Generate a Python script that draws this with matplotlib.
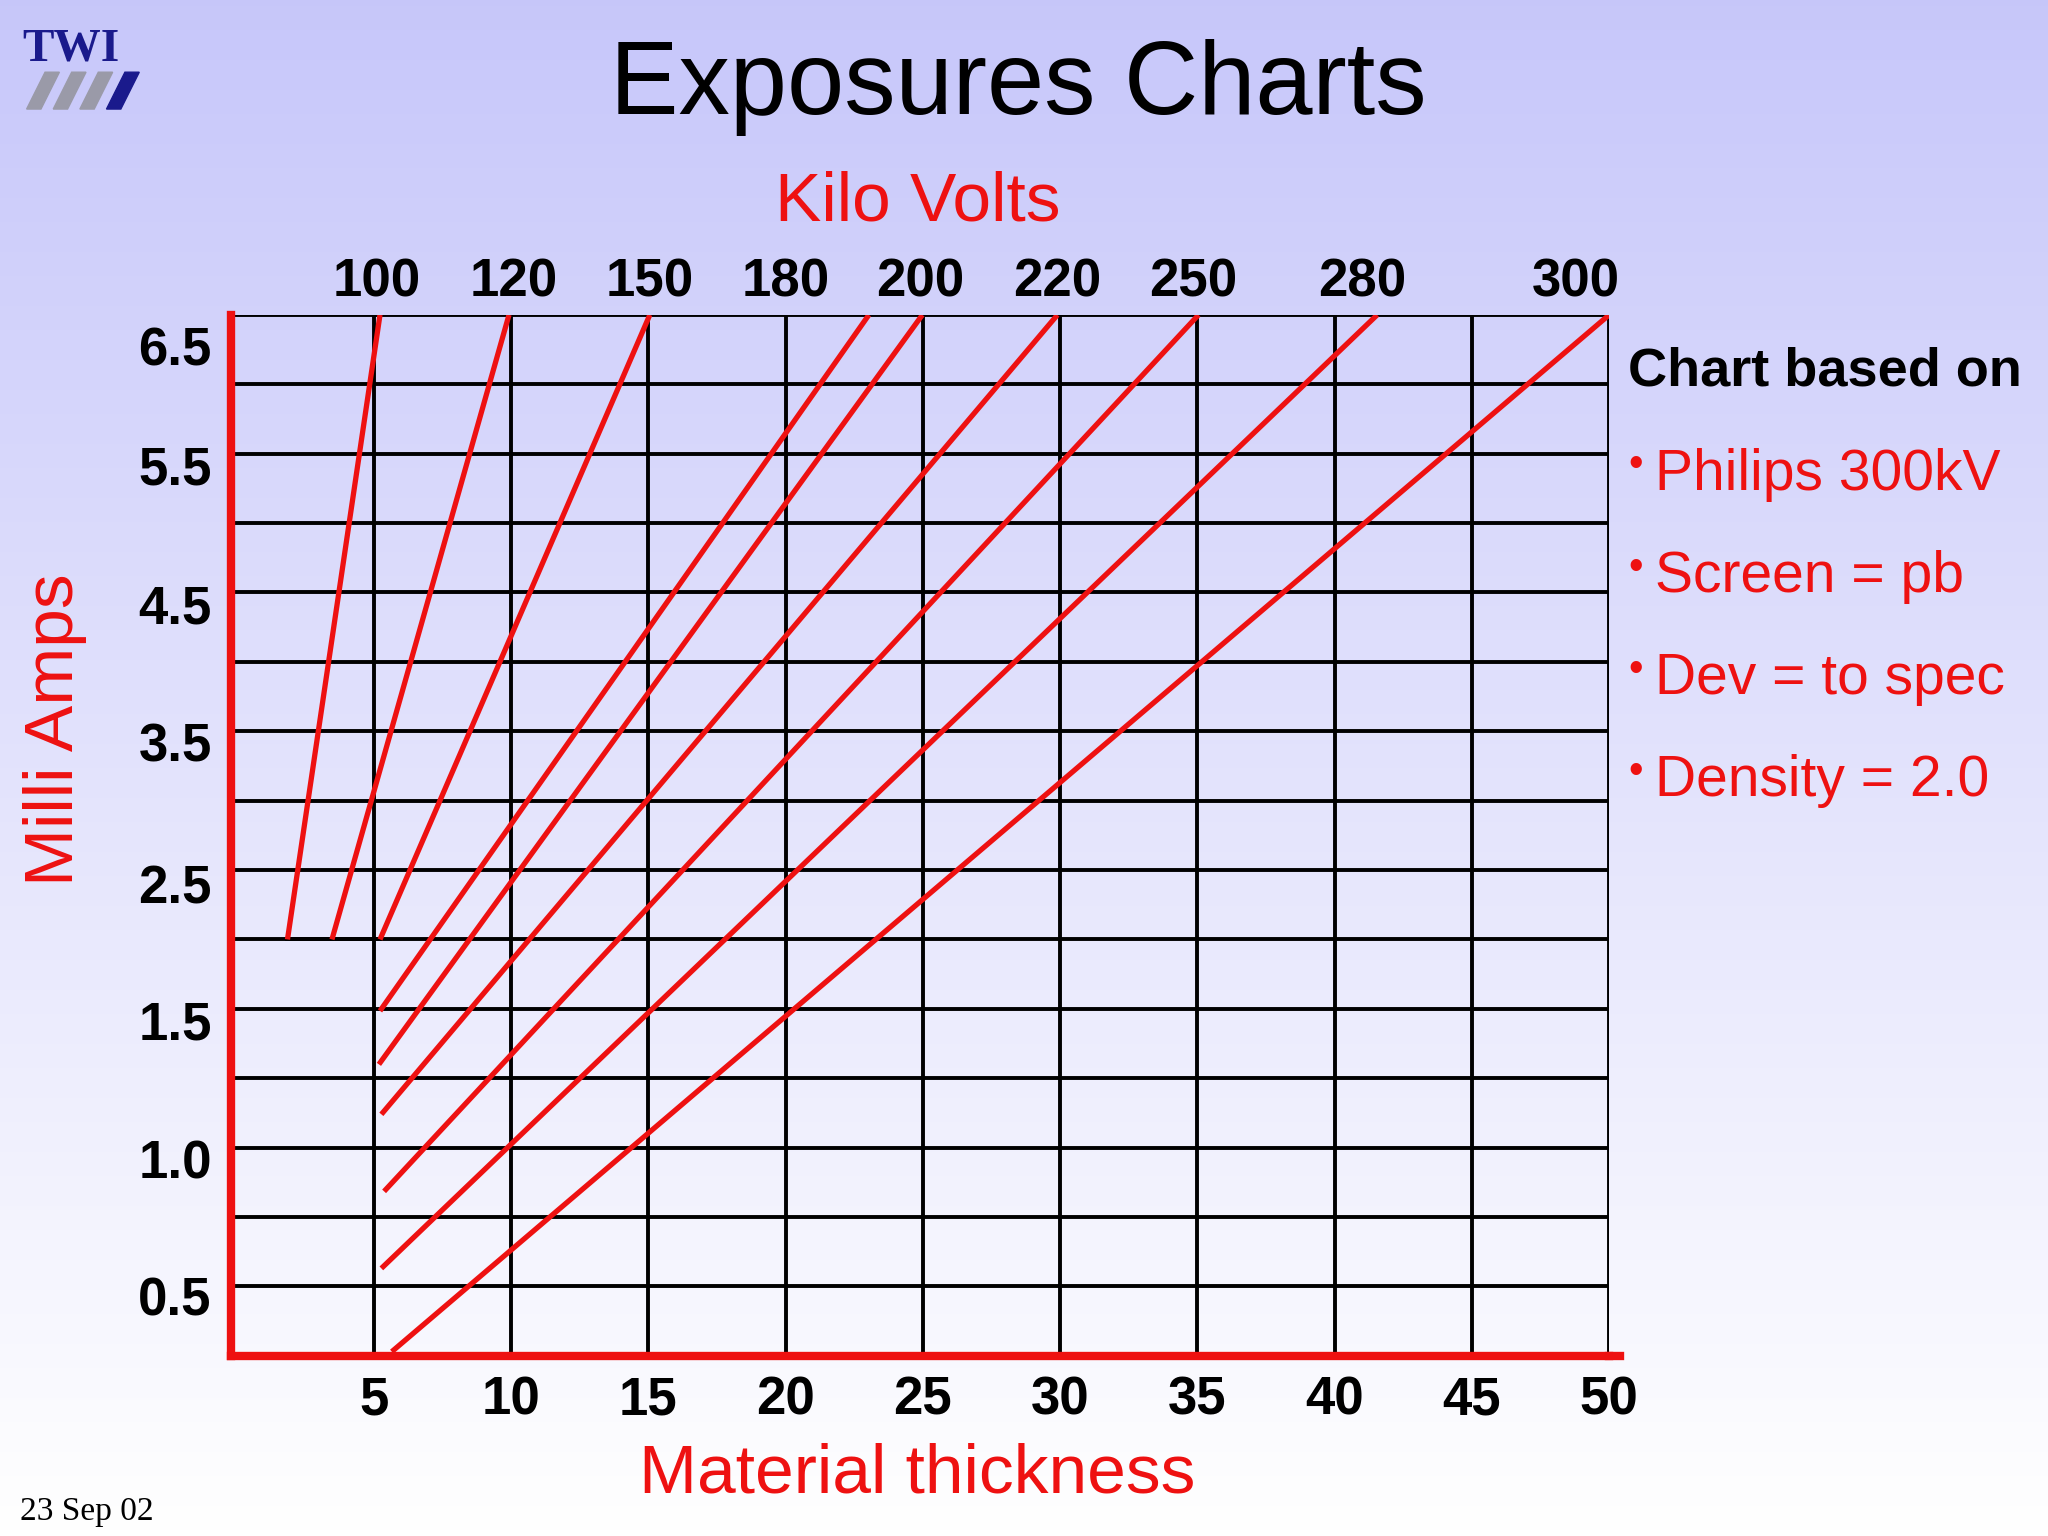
import numpy as np
import matplotlib
matplotlib.use('Agg')
import matplotlib.pyplot as plt

plt.rcParams['font.family'] = ['Liberation Sans', 'DejaVu Sans']

# Material thickness ticks (bottom) and kV labels (top)
thick_ticks = [5, 10, 15, 20, 25, 30, 35, 40, 45, 50]
kv_labels = ['100', '120', '150', '180', '200', '220', '250', '280', '300']
kv_label_x = [5.1, 10.1, 15.05, 20.0, 24.9, 29.9, 34.85, 41.0, 48.8]

# mA axis: grid rows, labels on rows
ma_labels = ['0.5', '1.0', '1.5', '2.5', '3.5', '4.5', '5.5', '6.5']
ma_label_y = [0.86, 2.84, 4.84, 6.8, 8.84, 10.84, 12.84, 14.55]

# exposure lines: (x start, row start, x end, row end)
line_x0 = [1.85, 3.47, 5.22, 5.22, 5.18, 5.27, 5.37, 5.27, 5.65]
line_y0 = [6.0, 6.0, 6.0, 4.97, 4.2, 3.48, 2.37, 1.26, 0.06]
line_x1 = [5.22, 9.92, 15.05, 23.03, 24.98, 29.9, 35.04, 41.55, 50.0]
line_y1 = [15, 15, 15, 15, 15, 15, 15, 15, 15]

fig = plt.figure(figsize=(20.48, 15.36), dpi=100)

# background gradient
bg = fig.add_axes([0, 0, 1, 1], zorder=-10)
grad = np.linspace(0, 1, 256).reshape(-1, 1)
top = np.array([0.78, 0.78, 0.98])
bot = np.array([1.0, 1.0, 1.0])
img = top + (bot - top) * grad[..., None]
bg.imshow(img, aspect='auto', extent=[0, 1, 0, 1])
bg.axis('off')

ax = fig.add_axes([0.1129, 0.1173, 0.6728, 0.6777])
ax.set_facecolor('none')
ax.set_xlim(-0.2, 50)
ax.set_ylim(0, 15)

for x in thick_ticks:
    ax.axvline(x, color='black', lw=2.8, zorder=1)
for y in range(1, 16):
    ax.axhline(y, color='black', lw=2.8, zorder=1)

for x0, y0, x1, y1 in zip(line_x0, line_y0, line_x1, line_y1):
    ax.plot([x0, x1], [y0, y1], color='#ee1111', lw=3.8, zorder=3, solid_capstyle='butt')
ax.plot([1.85, 5.22], [6, 6], color='black', lw=2.8, zorder=2)

for s in ['top', 'right']:
    ax.spines[s].set_visible(False)
ax.spines['left'].set_color('#ee1111')
ax.spines['bottom'].set_color('#ee1111')
ax.spines['left'].set_linewidth(6)
ax.spines['bottom'].set_linewidth(6)
ax.plot([50, 50.4], [0, 0], color='#ee1111', lw=6, clip_on=False)

ax.set_xticks(thick_ticks)
ax.set_xticklabels([str(t) for t in thick_ticks], fontsize=38, fontweight='bold')
ax.set_yticks(ma_label_y)
ax.set_yticklabels(ma_labels, fontsize=38, fontweight='bold')
ax.tick_params(length=0, pad=14)

for lab, x in zip(kv_labels, kv_label_x):
    ax.text(x, 15.1, lab, ha='center', va='bottom', fontsize=38, fontweight='bold')

fig.text(0.448, 0.868, 'Kilo Volts', color='#ee1111', fontsize=50, ha='center', va='center')
fig.text(0.497, 0.943, 'Exposures Charts', fontsize=74, ha='center', va='center')
fig.text(0.448, 0.040, 'Material thickness', color='#ee1111', fontsize=50, ha='center', va='center')
fig.text(0.027, 0.525, 'Milli Amps', color='#ee1111', fontsize=50, ha='center', va='center',
         rotation=90)

fig.text(0.795, 0.758, 'Chart based on', fontsize=39, fontweight='bold', va='center')
bullets = ['Philips 300kV', 'Screen = pb', 'Dev = to spec', 'Density = 2.0']
for i, b in enumerate(bullets):
    y = 0.691 - i * 0.0665
    fig.text(0.795, y + 0.006, '•', color='#ee1111', fontsize=30, va='center')
    fig.text(0.808, y, b, color='#ee1111', fontsize=41, va='center')

fig.text(0.010, 0.016, '23 Sep 02', family='Liberation Serif', fontsize=24, va='center')

# TWI logo
fig.text(0.011, 0.968, 'TWI', family='Liberation Serif', fontweight='bold', fontsize=34,
         color='#1a1a8c', va='center')
for i in range(4):
    x0 = 0.013 + i * 0.013
    col = '#1a1a8c' if i == 3 else '#9a9aa8'
    fig.patches.append(plt.Polygon([[x0, 0.929], [x0 + 0.007, 0.929],
                                    [x0 + 0.016, 0.953], [x0 + 0.009, 0.953]],
                                   closed=True, transform=fig.transFigure, color=col))

fig.savefig('out.png', dpi=100)
